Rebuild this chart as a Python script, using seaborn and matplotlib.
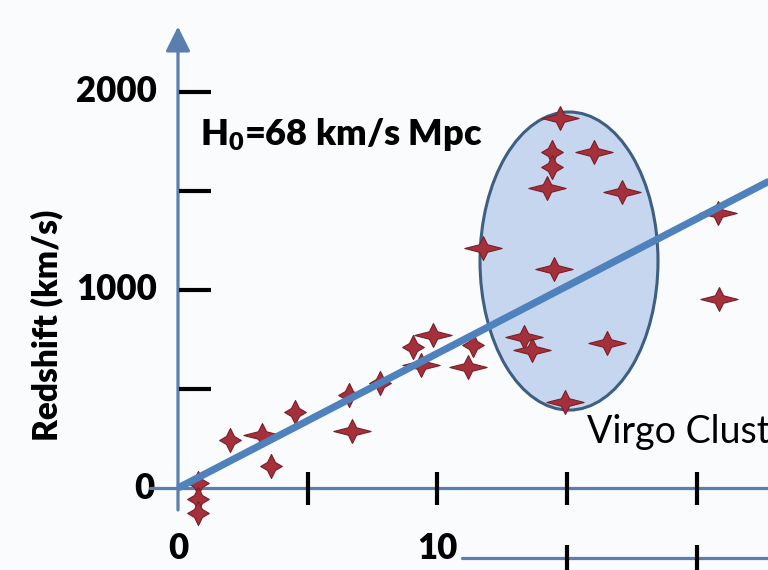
import matplotlib
matplotlib.use("Agg")
from matplotlib import pyplot as plt
from matplotlib.patches import Ellipse
from matplotlib.path import Path
import numpy as np
import pandas as pd
import seaborn as sns

# Distance (Mpc) vs redshift velocity (km/s)
distance = [0.77, 0.77, 0.77, 2.0, 3.58, 4.51, 6.59, 7.78, 9.06, 11.37, 14.41, 14.41,
            3.24, 6.71, 9.83, 9.36, 11.18, 14.72, 16.03, 14.22, 17.11, 11.75, 14.49,
            20.81, 20.85, 13.33, 13.64, 16.53, 14.91]
velocity = [25, -56, -126, 242, 111, 384, 470, 530, 712, 722, 1697, 1621,
            268, 288, 773, 621, 611, 1868, 1697, 1515, 1495, 1212, 1106,
            1389, 955, 763, 697, 732, 434]
shape = ["compact"] * 12 + ["wide"] * 17

H0 = 68
fit_distance = np.array([0, 23])
fit_velocity = H0 * fit_distance

y_ticks = [500, 1000, 1500, 2000]
y_labels = {2000: "2000", 1000: "1000", 0: "0"}
x_ticks = [5, 10, 15, 20]
x_labels = {0: "0", 10: "10"}
lower_ticks = [15, 20]

# Virgo cluster outline (center, width, height)
virgo = (15.07, 1146, 6.86, 1505)

df = pd.DataFrame({"distance": distance, "velocity": velocity, "shape": shape})

sns.set_style("white")
plt.rcParams["font.family"] = ["Lato", "DejaVu Sans"]
plt.rcParams["mathtext.default"] = "regular"

bg = "#f9fbfd"
axis_col = "#5a7fae"
line_col = "#4f81bd"
star_col = "#a3303b"
star_edge = "#7b1e28"

fig = plt.figure(figsize=(7.68, 5.7), dpi=100, facecolor=bg)
ax = fig.add_axes([0, 0, 1, 1])
ax.set_facecolor(bg)
ax.set_xlim(-6.86, 22.74)
ax.set_ylim(-414, 2464)
ax.axis("off")

# star-shaped markers
compact = Path([(0, 1), (0.33, 0.33), (0.9, 0), (0.33, -0.33), (0, -1),
                (-0.33, -0.33), (-0.9, 0), (-0.33, 0.33), (0, 1)], closed=True)
wide = Path([(0, 0.64), (0.22, 0.2), (1, 0), (0.22, -0.2), (0, -0.64),
             (-0.22, -0.2), (-1, 0), (-0.22, 0.2), (0, 0.64)], closed=True)

ell = Ellipse((virgo[0], virgo[1]), virgo[2], virgo[3], facecolor="#c5d6ee",
              edgecolor="#3e5f82", lw=2.2, zorder=1)
ax.add_patch(ell)

sns.scatterplot(data=df[df["shape"] == "compact"], x="distance", y="velocity",
                marker=compact, s=300, color=star_col, edgecolor=star_edge,
                linewidth=0.8, ax=ax, zorder=3)
sns.scatterplot(data=df[df["shape"] == "wide"], x="distance", y="velocity",
                marker=wide, s=720, color=star_col, edgecolor=star_edge,
                linewidth=0.8, ax=ax, zorder=3)

# Hubble law fit line
sns.lineplot(x=fit_distance, y=fit_velocity, color=line_col, lw=5.2, ax=ax,
             zorder=4, solid_capstyle="butt")

# axes
ax.plot([-1.08, 22.74], [0, 0], color=axis_col, lw=2.3, zorder=2)
ax.annotate("", xy=(0, 2330), xytext=(0, -111),
            arrowprops=dict(arrowstyle="-|>,head_length=1.5,head_width=0.75",
                            color=axis_col, lw=2.3, shrinkA=0, shrinkB=0,
                            mutation_scale=10), zorder=2)
ax.plot([10.94, 22.74], [-354, -354], color=axis_col, lw=2.3, zorder=2)

for yt in y_ticks:
    ax.plot([0.05, 1.27], [yt, yt], color="black", lw=3, solid_capstyle="butt", zorder=2)
for xt in x_ticks:
    ax.plot([xt, xt], [-85, 82], color="black", lw=3, solid_capstyle="butt", zorder=2)
for xt in lower_ticks:
    ax.plot([xt, xt], [-288, -420], color="black", lw=3, solid_capstyle="butt", zorder=2)

for yv, lab in y_labels.items():
    ax.text(-0.82 if yv else -0.9, yv, lab, ha="right", va="center",
            fontsize=25, fontweight="heavy", color="black", zorder=1.5)
for xv, lab in x_labels.items():
    ax.text(xv, -303, lab, ha="center", va="center", fontsize=25,
            fontweight="heavy", color="black")

ax.text(-5.05, 823, "Redshift (km/s)", rotation=90, ha="center", va="center",
        fontsize=24, fontweight="heavy", color="black")
ax.text(0.85, 1783, "H$_0$=68 km/s Mpc", ha="left", va="center",
        fontsize=26, fontweight="heavy", color="black")
ax.text(15.76, 283, "Virgo Cluster", ha="left", va="center",
        fontsize=27, color="black")

fig.savefig("out.png", dpi=100, facecolor=bg)
